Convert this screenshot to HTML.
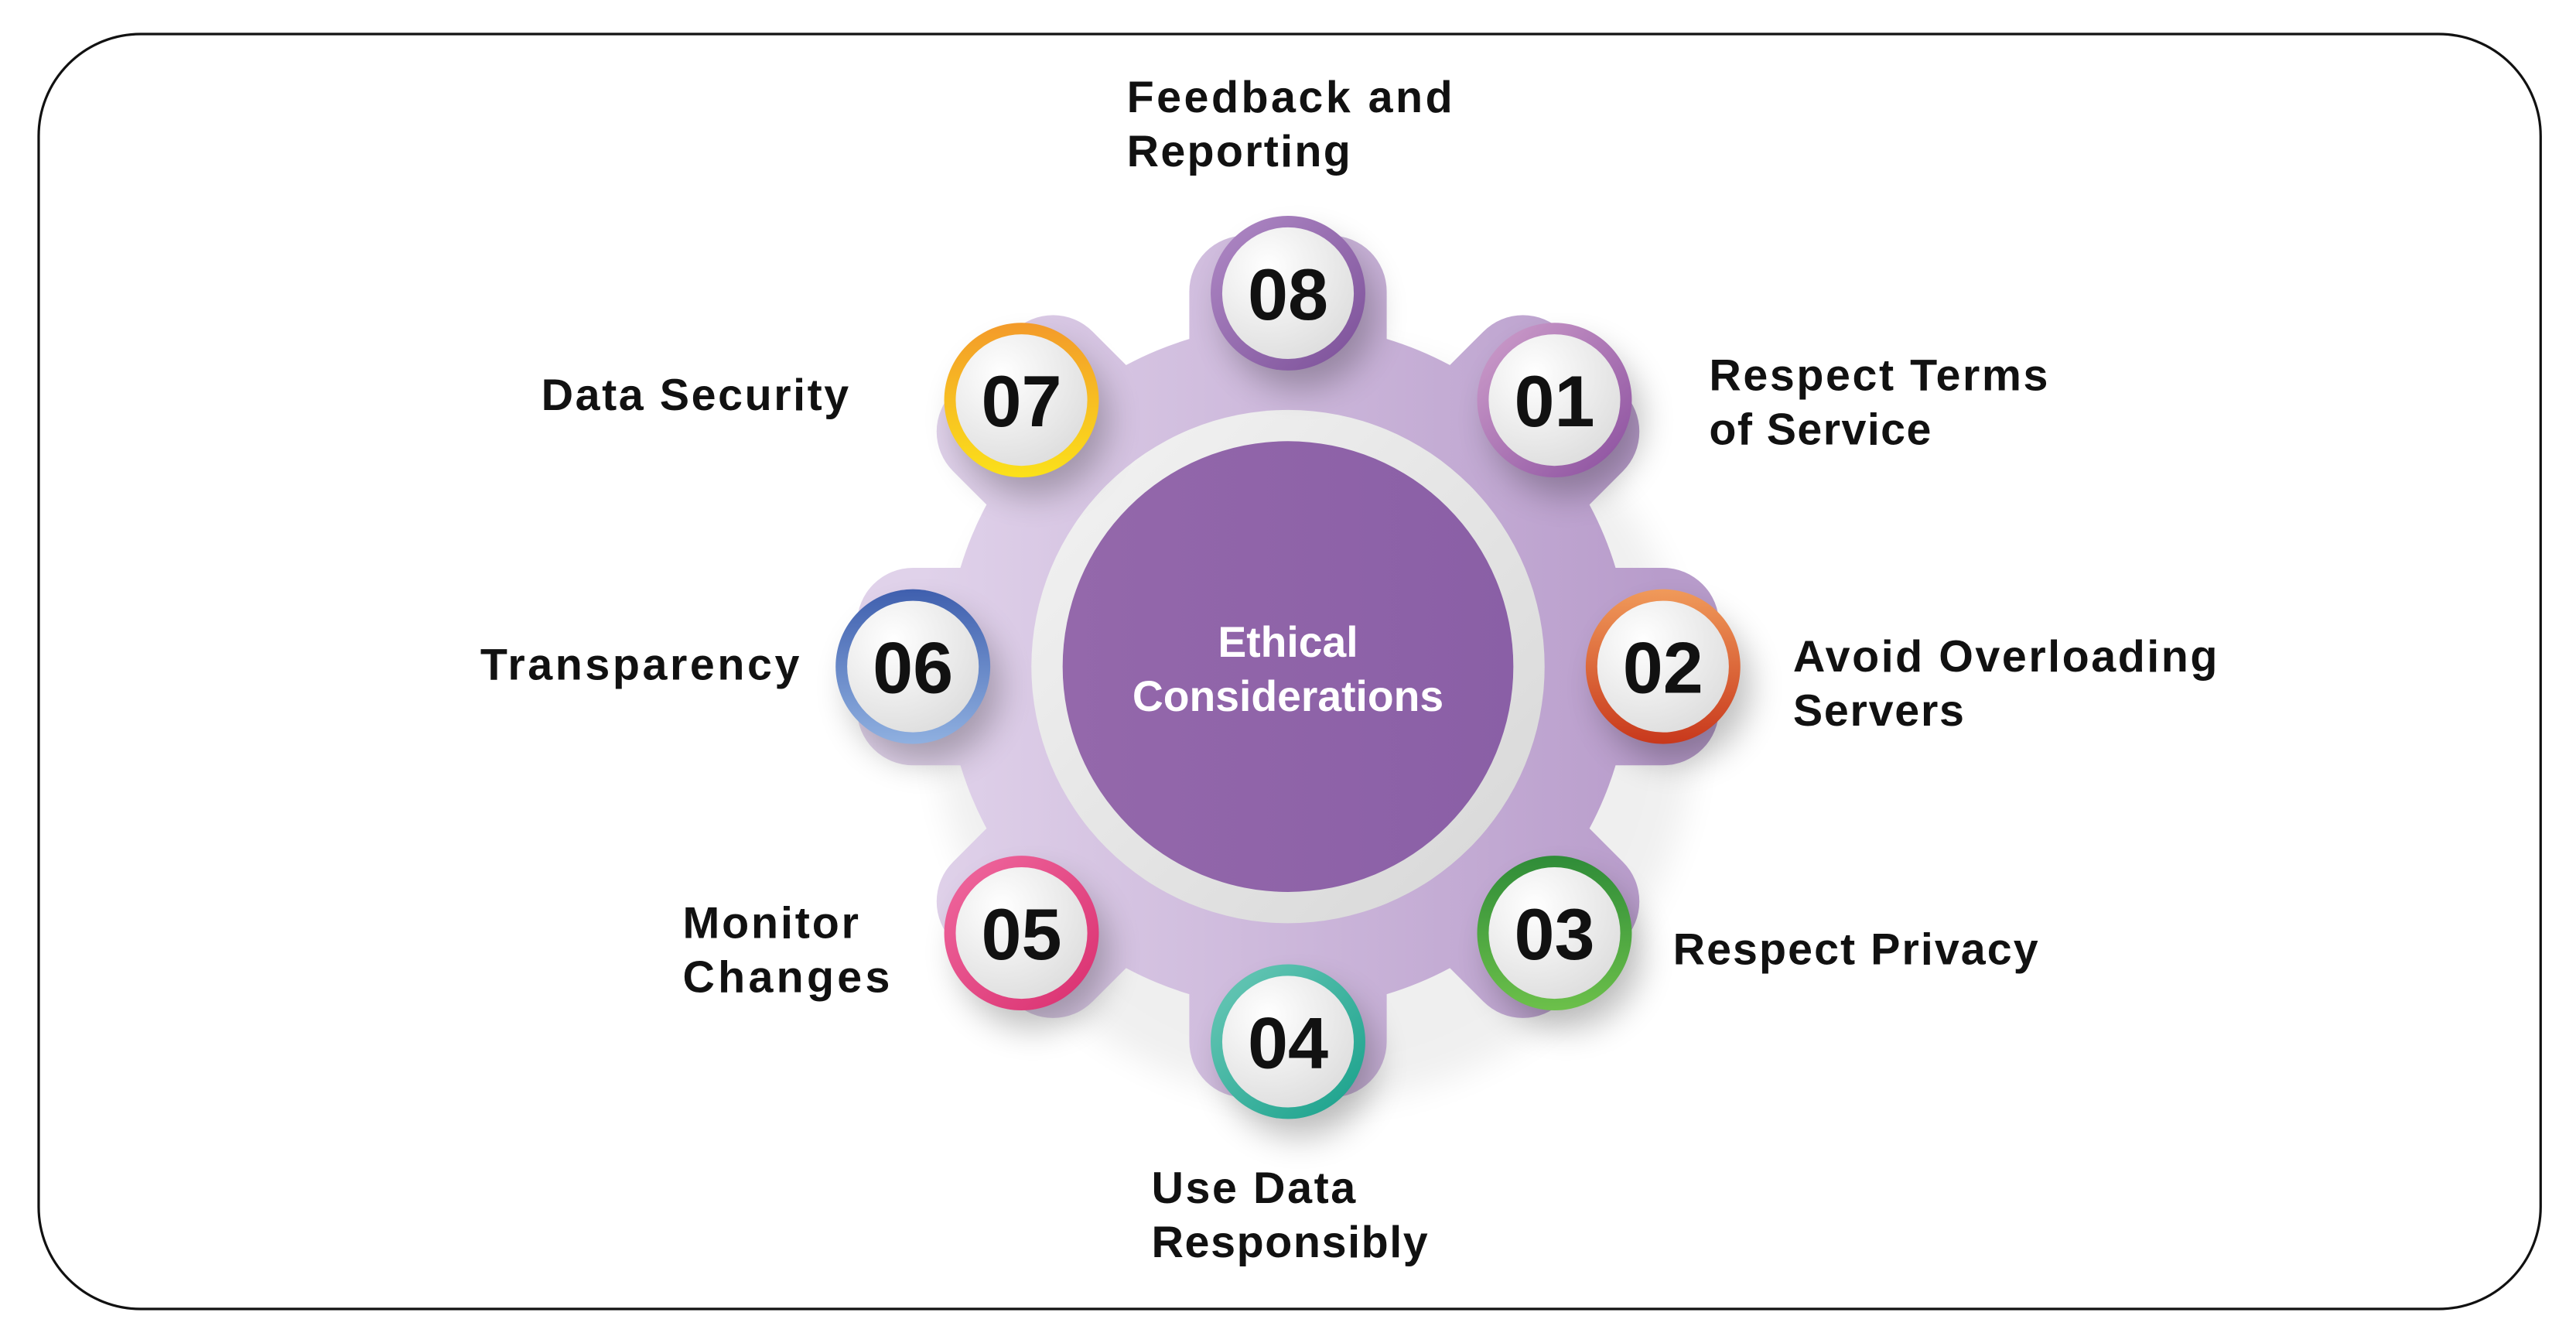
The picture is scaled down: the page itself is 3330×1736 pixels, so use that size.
<!DOCTYPE html>
<html><head><meta charset="utf-8"><style>
html,body{margin:0;padding:0;background:#fff;width:3330px;height:1736px;overflow:hidden}
svg{display:block}
text{font-family:"Liberation Sans",sans-serif;font-weight:bold}
</style></head><body>
<svg width="3330" height="1736" viewBox="0 0 1566 816" xmlns="http://www.w3.org/2000/svg">
<defs>
<linearGradient id="gear" gradientUnits="userSpaceOnUse" x1="560" y1="0" x2="1010" y2="0">
<stop offset="0" stop-color="#e0d2ea"/><stop offset="1" stop-color="#b89ccb"/></linearGradient>
<mask id="gm">
<g fill="#fff">
<circle cx="783" cy="405" r="208"/>
<g transform="translate(783 405)">
<rect x="-60" y="-262" width="120" height="130" rx="34"/>
<rect x="-60" y="-262" width="120" height="130" rx="34" transform="rotate(45)"/>
<rect x="-60" y="-262" width="120" height="130" rx="34" transform="rotate(90)"/>
<rect x="-60" y="-262" width="120" height="130" rx="34" transform="rotate(135)"/>
<rect x="-60" y="-262" width="120" height="130" rx="34" transform="rotate(180)"/>
<rect x="-60" y="-262" width="120" height="130" rx="34" transform="rotate(225)"/>
<rect x="-60" y="-262" width="120" height="130" rx="34" transform="rotate(270)"/>
<rect x="-60" y="-262" width="120" height="130" rx="34" transform="rotate(315)"/>
</g></g>
</mask>
<linearGradient id="ring" x1="0" y1="0" x2="1" y2="1">
<stop offset="0" stop-color="#f4f4f4"/><stop offset="1" stop-color="#d6d6d6"/></linearGradient>
<radialGradient id="inner" cx="0.35" cy="0.3" r="0.8">
<stop offset="0" stop-color="#ffffff"/><stop offset="1" stop-color="#dcdcdc"/></radialGradient>
<linearGradient id="core" x1="0" y1="0" x2="1" y2="0">
<stop offset="0" stop-color="#9468ab"/><stop offset="1" stop-color="#8a5fa6"/></linearGradient>
<filter id="sh" x="-50%" y="-50%" width="200%" height="200%"><feGaussianBlur stdDeviation="10"/></filter>
<linearGradient id="c1" x1="0" y1="0" x2="1" y2="1"><stop offset="0" stop-color="#cfa0cc"/><stop offset="1" stop-color="#8a4e9e"/></linearGradient>
<linearGradient id="c2" x1="0" y1="0" x2="0" y2="1"><stop offset="0" stop-color="#f09a5a"/><stop offset="1" stop-color="#c8381c"/></linearGradient>
<linearGradient id="c3" x1="0" y1="0" x2="0" y2="1"><stop offset="0" stop-color="#2f8c38"/><stop offset="1" stop-color="#6cc04a"/></linearGradient>
<linearGradient id="c4" x1="0" y1="0" x2="1" y2="1"><stop offset="0" stop-color="#6cc9b8"/><stop offset="1" stop-color="#17a08a"/></linearGradient>
<linearGradient id="c5" x1="0" y1="0" x2="1" y2="1"><stop offset="0" stop-color="#f06aa0"/><stop offset="1" stop-color="#d92e6e"/></linearGradient>
<linearGradient id="c6" x1="0" y1="0" x2="0" y2="1"><stop offset="0" stop-color="#3f5fae"/><stop offset="1" stop-color="#8fb0e0"/></linearGradient>
<linearGradient id="c7" x1="0" y1="0" x2="0" y2="1"><stop offset="0" stop-color="#f39a2a"/><stop offset="1" stop-color="#fbe11a"/></linearGradient>
<linearGradient id="c8" x1="0" y1="0" x2="1" y2="1"><stop offset="0" stop-color="#b08ac6"/><stop offset="1" stop-color="#7b4f98"/></linearGradient>
</defs>
<rect x="23.5" y="20.5" width="1521" height="775" rx="62" fill="#fff" stroke="#111" stroke-width="1.5"/>
<circle cx="800" cy="440" r="230" fill="#000" opacity="0.06" filter="url(#sh)"/>
<rect x="500" y="120" width="570" height="570" fill="url(#gear)" mask="url(#gm)"/>
<circle cx="783" cy="405" r="156" fill="url(#ring)"/>
<circle cx="783" cy="405" r="137" fill="url(#core)"/>
<text x="783" y="399" font-size="26" fill="#fff" text-anchor="middle">Ethical</text>
<text x="783" y="432" font-size="26" fill="#fff" text-anchor="middle">Considerations</text>
<g font-size="44" text-anchor="middle" fill="#111">
<g><circle cx="790" cy="190" r="46" fill="#000" opacity="0.25" filter="url(#sh)"/><circle cx="783" cy="178" r="47" fill="url(#c8)"/><circle cx="783" cy="178" r="40" fill="url(#inner)"/><text x="783" y="194">08</text></g>
<g><circle cx="952" cy="255" r="46" fill="#000" opacity="0.25" filter="url(#sh)"/><circle cx="945" cy="243" r="47" fill="url(#c1)"/><circle cx="945" cy="243" r="40" fill="url(#inner)"/><text x="945" y="259">01</text></g>
<g><circle cx="1018" cy="417" r="46" fill="#000" opacity="0.25" filter="url(#sh)"/><circle cx="1011" cy="405" r="47" fill="url(#c2)"/><circle cx="1011" cy="405" r="40" fill="url(#inner)"/><text x="1011" y="421">02</text></g>
<g><circle cx="952" cy="579" r="46" fill="#000" opacity="0.25" filter="url(#sh)"/><circle cx="945" cy="567" r="47" fill="url(#c3)"/><circle cx="945" cy="567" r="40" fill="url(#inner)"/><text x="945" y="583">03</text></g>
<g><circle cx="790" cy="645" r="46" fill="#000" opacity="0.25" filter="url(#sh)"/><circle cx="783" cy="633" r="47" fill="url(#c4)"/><circle cx="783" cy="633" r="40" fill="url(#inner)"/><text x="783" y="649">04</text></g>
<g><circle cx="628" cy="579" r="46" fill="#000" opacity="0.25" filter="url(#sh)"/><circle cx="621" cy="567" r="47" fill="url(#c5)"/><circle cx="621" cy="567" r="40" fill="url(#inner)"/><text x="621" y="583">05</text></g>
<g><circle cx="562" cy="417" r="46" fill="#000" opacity="0.25" filter="url(#sh)"/><circle cx="555" cy="405" r="47" fill="url(#c6)"/><circle cx="555" cy="405" r="40" fill="url(#inner)"/><text x="555" y="421">06</text></g>
<g><circle cx="628" cy="255" r="46" fill="#000" opacity="0.25" filter="url(#sh)"/><circle cx="621" cy="243" r="47" fill="url(#c7)"/><circle cx="621" cy="243" r="40" fill="url(#inner)"/><text x="621" y="259">07</text></g>
</g>
<g font-size="27" fill="#111">
<text x="685" y="68" textLength="198">Feedback and</text>
<text x="685" y="101" textLength="136">Reporting</text>
<text x="1039" y="237" textLength="206">Respect Terms</text>
<text x="1039" y="270" textLength="135">of Service</text>
<text x="1090" y="408" textLength="258">Avoid Overloading</text>
<text x="1090" y="441" textLength="104">Servers</text>
<text x="1017" y="586" textLength="222">Respect Privacy</text>
<text x="700" y="731" textLength="124">Use Data</text>
<text x="700" y="764" textLength="168">Responsibly</text>
<text x="415" y="570" textLength="107">Monitor</text>
<text x="415" y="603" textLength="126">Changes</text>
<text x="292" y="413" textLength="194">Transparency</text>
<text x="329" y="249" textLength="187">Data Security</text>
</g>
</svg>
</body></html>
